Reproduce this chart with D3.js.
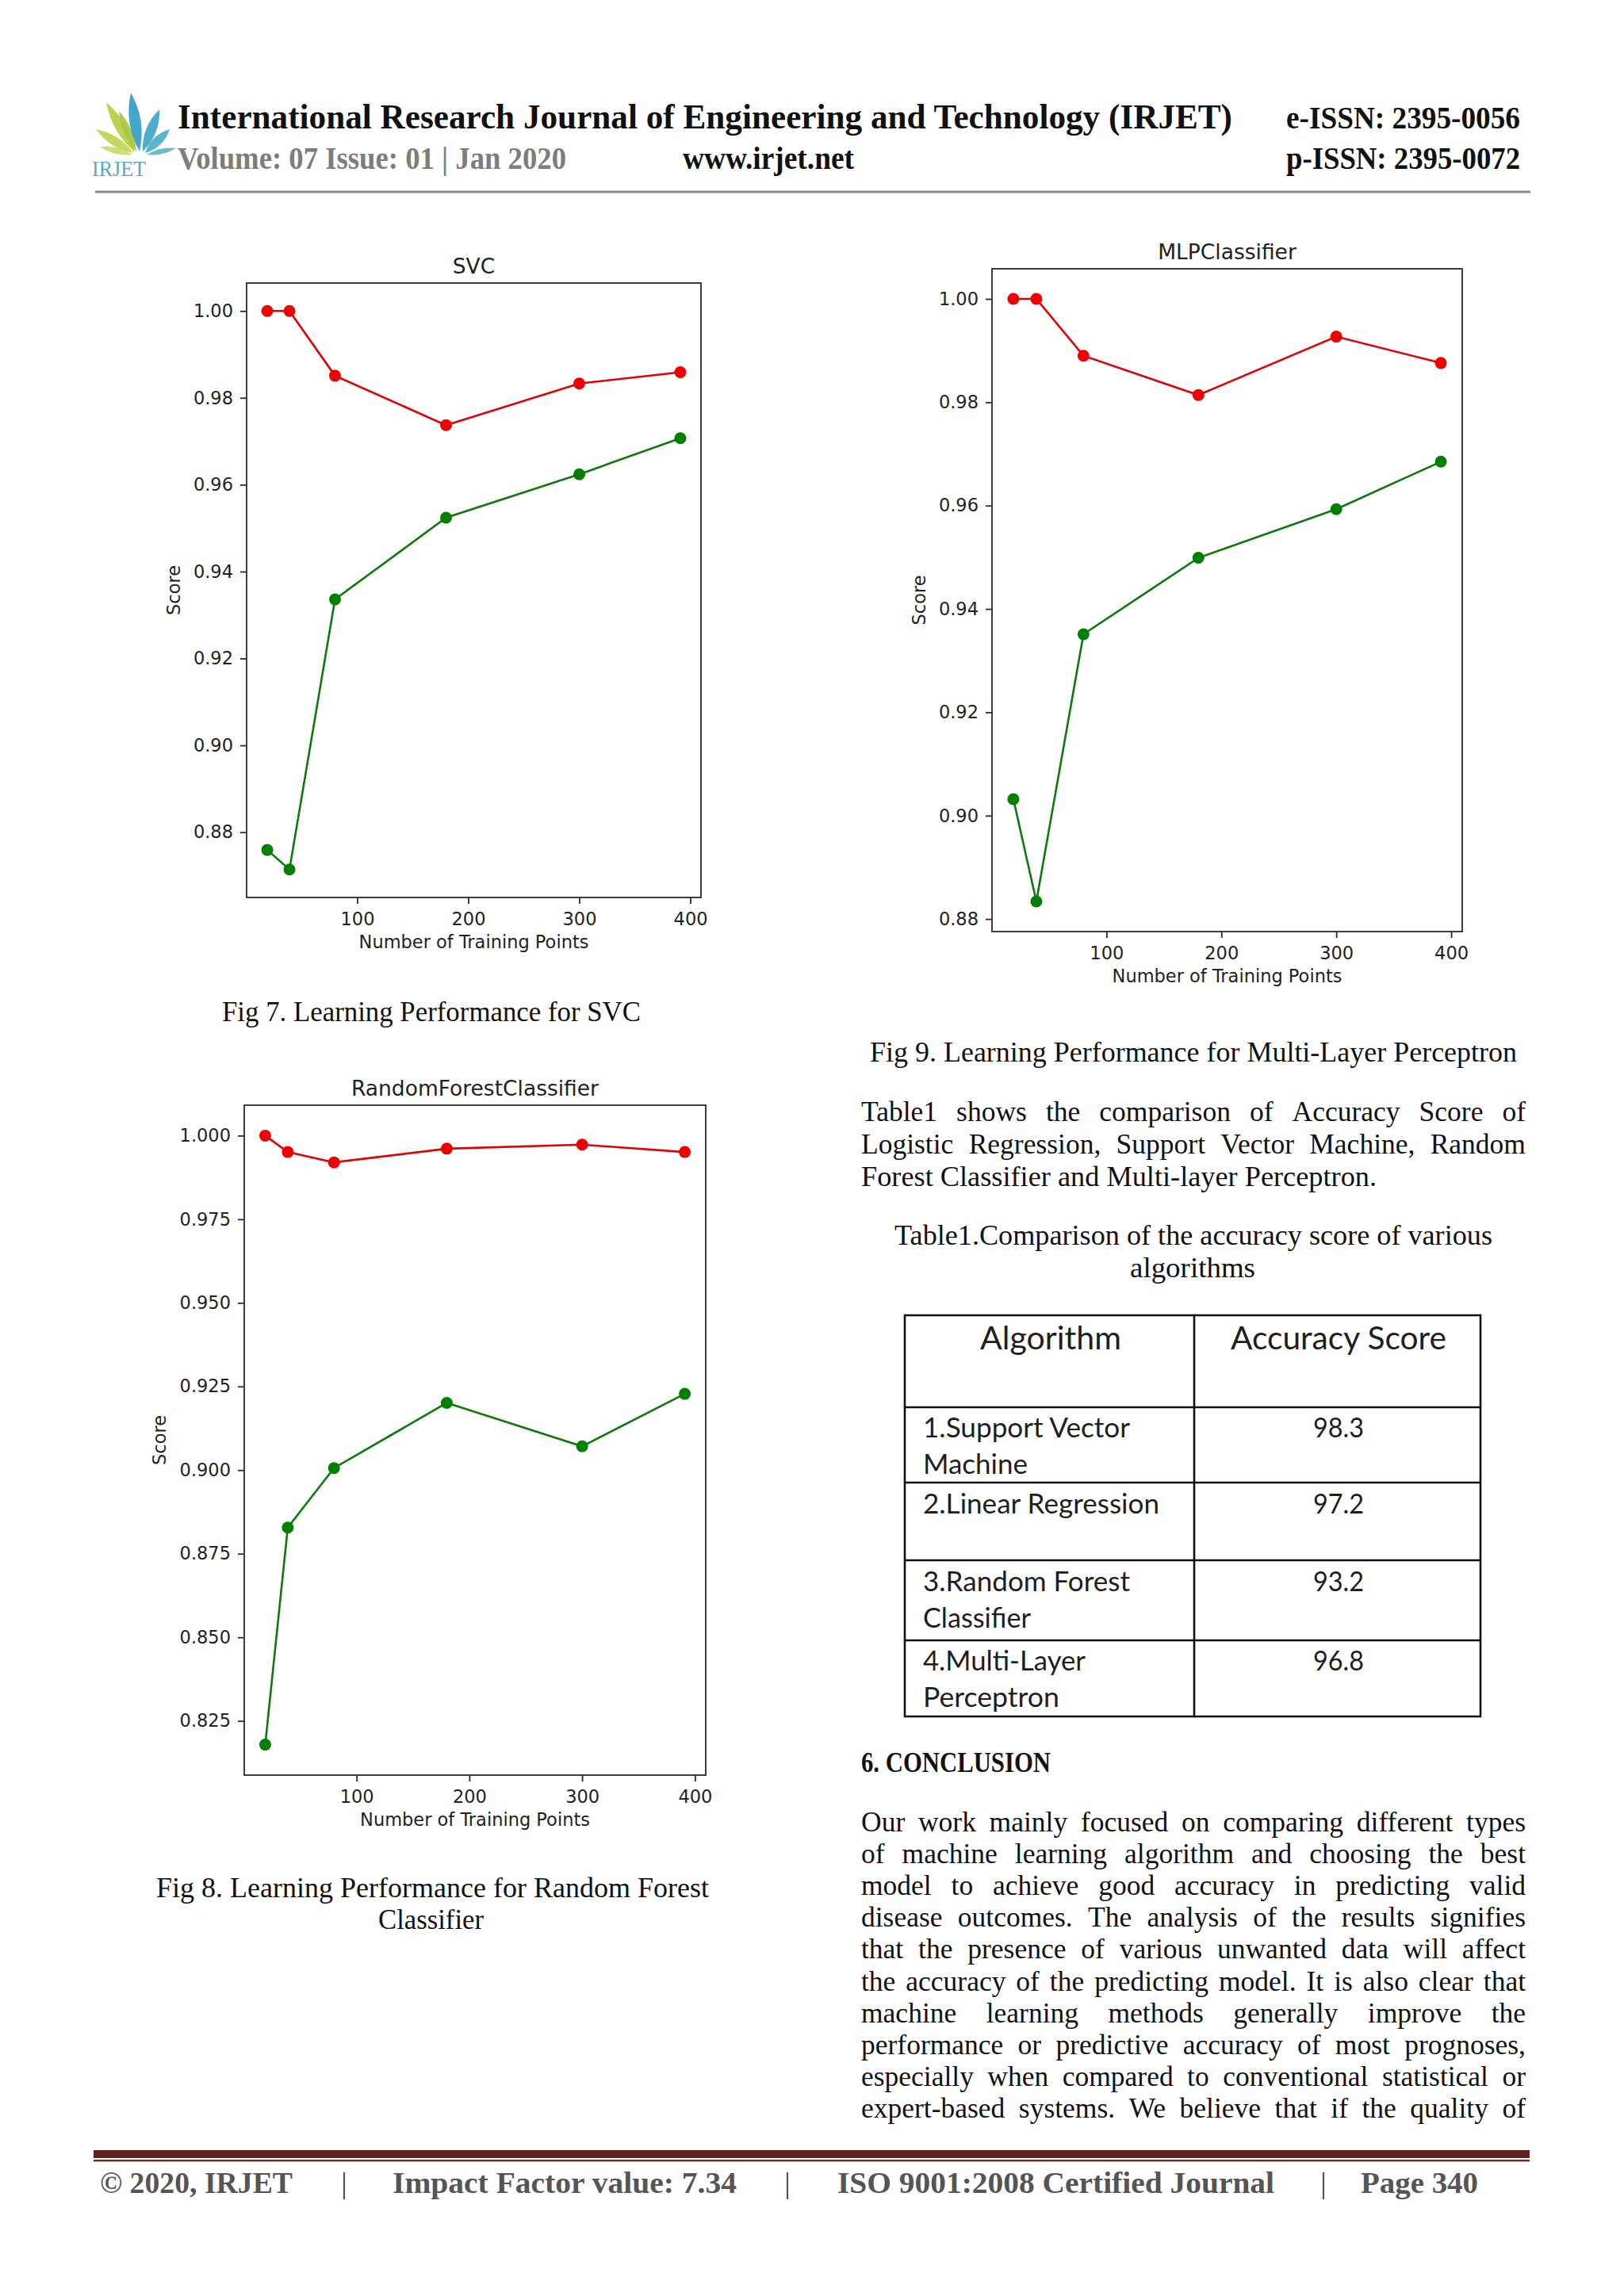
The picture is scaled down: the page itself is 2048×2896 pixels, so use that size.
<!DOCTYPE html>
<html><head><meta charset="utf-8">
<script src="https://cdn.jsdelivr.net/npm/d3@7"></script>
<style>html,body{margin:0;padding:0;background:#fff;} svg{display:block}</style>
</head><body>
<script>
// ---------- data ----------
const trainSizes = [19, 39, 80, 180, 300, 391];
const svcTrain = [1.000, 1.000, 0.9851, 0.9737, 0.9833, 0.9859];
const svcTest  = [0.8759, 0.8714, 0.9336, 0.9524, 0.9624, 0.9707];
const mlpTrain = [1.000, 1.000, 0.9890, 0.9814, 0.9927, 0.9876];
const mlpTest  = [0.9032, 0.8834, 0.9351, 0.9499, 0.9593, 0.9685];
const rfTrain  = [1.000, 0.9951, 0.9920, 0.9961, 0.9973, 0.9951];
const rfTest   = [0.8179, 0.8828, 0.9006, 0.9201, 0.9071, 0.9228];
const xTicks = [100, 200, 300, 400];
const svcYTicks = [0.88, 0.90, 0.92, 0.94, 0.96, 0.98, 1.00];
const mlpYTicks = [0.88, 0.90, 0.92, 0.94, 0.96, 0.98, 1.00];
const rfYTicks  = [0.825, 0.850, 0.875, 0.900, 0.925, 0.950, 0.975, 1.000];
const tableHeaders = ["Algorithm", "Accuracy Score"];
const tableAlgorithms = [["1.Support Vector", "Machine"], ["2.Linear Regression"], ["3.Random Forest", "Classifier"], ["4.Multi-Layer", "Perceptron"]];
const tableScores = ["98.3", "97.2", "93.2", "96.8"];

const W = 2048, H = 2896;
const svg = d3.select("body").append("svg").attr("width", W).attr("height", H)
  .attr("viewBox", `0 0 ${W} ${H}`);
svg.append("rect").attr("width", W).attr("height", H).attr("fill", "#ffffff");

const SERIF = "'Liberation Serif', 'DejaVu Serif', serif";
const SANS = "'DejaVu Sans', sans-serif";
const CAL = "Lato, 'Open Sans', sans-serif";

function txt(parent, s, x, y, o = {}) {
  const t = parent.append("text").attr("x", x).attr("y", y).text(s)
    .attr("font-family", o.family || SERIF)
    .attr("font-size", o.size || 35)
    .attr("font-weight", o.weight || "normal")
    .attr("fill", o.fill || "#111")
    .attr("text-anchor", o.anchor || "start");
  if (o.len) t.attr("textLength", o.len).attr("lengthAdjust", "spacingAndGlyphs");
  return t;
}

function justLine(parent, s, x, y, w, size, fill) {
  const words = s.split(" ");
  const g = parent.append("g");
  const els = words.map(wd => g.append("text").attr("font-family", SERIF).attr("font-size", size)
    .attr("fill", fill || "#111").attr("y", y).text(wd));
  const widths = els.map(e => e.node().getComputedTextLength());
  const total = d3.sum(widths);
  let gap = (w - total) / (words.length - 1);
  let scale = 1;
  const minGap = size * 0.22;
  if (gap < minGap) { scale = w / (total + minGap * (words.length - 1)); gap = minGap; }
  let cx = 0;
  els.forEach((e, i) => { e.attr("x", cx); cx += widths[i] + gap; });
  g.attr("transform", `translate(${x},0) scale(${scale},1)`);
}

// ---------- header ----------
const hdr = svg.append("g");
const leaves = [
  {bx:170,by:192, tx:134,ty:129, w:8, c:"#b7cb3c"},
  {bx:168,by:193, tx:121,ty:163, w:7, c:"#c3d24c"},
  {bx:167,by:195, tx:126,ty:185, w:5, c:"#cdd86a"},
  {bx:172,by:191, tx:150,ty:140, w:6, c:"#a5c640"},
  {bx:176,by:191, tx:165,ty:117, w:9, c:"#2e9bc3"},
  {bx:180,by:191, tx:201,ty:138, w:8, c:"#38a4c6"},
  {bx:183,by:193, tx:214,ty:163, w:7, c:"#45adc8"},
  {bx:185,by:195, tx:222,ty:187, w:4, c:"#5ab5c8"}
];
leaves.forEach(L => {
  const mx = (L.bx + L.tx) / 2, my = (L.by + L.ty) / 2;
  const dx = L.tx - L.bx, dy = L.ty - L.by, len = Math.hypot(dx, dy);
  const px = -dy / len * L.w * 1.6, py = dx / len * L.w * 1.6;
  hdr.append("path").attr("d", `M${L.bx},${L.by} Q${mx + px},${my + py} ${L.tx},${L.ty} Q${mx - px},${my - py} ${L.bx},${L.by} Z`)
    .attr("fill", L.c).attr("opacity", 0.9);
});
txt(hdr, "IRJET", 116, 222, {size: 28, fill: "#5aa7c9", len: 68});
txt(hdr, "International Research Journal of Engineering and Technology (IRJET)", 224, 162, {size: 45, weight: "bold", fill: "#111", len: 1330});
txt(hdr, "e-ISSN: 2395-0056", 1622, 162, {size: 40, weight: "bold", fill: "#111", len: 295});
txt(hdr, "Volume: 07 Issue: 01 | Jan 2020", 224, 213, {size: 40, weight: "bold", fill: "#7d7d7d", len: 490});
txt(hdr, "www.irjet.net", 861, 213, {size: 40, weight: "bold", fill: "#111", len: 216});
txt(hdr, "p-ISSN: 2395-0072", 1622, 213, {size: 40, weight: "bold", fill: "#111", len: 295});
hdr.append("line").attr("x1", 120).attr("x2", 1930).attr("y1", 242).attr("y2", 242)
  .attr("stroke", "#8a8a8a").attr("stroke-width", 3);

// ---------- charts ----------
function padDomain(v) {
  const mn = d3.min(v), mx = d3.max(v), p = (mx - mn) * 0.05;
  return [mn - p, mx + p];
}
function chart(o) {
  const g = svg.append("g");
  const {l, t, r, b} = o.frame;
  const x = d3.scaleLinear().domain(padDomain(trainSizes)).range([l, r]);
  const y = d3.scaleLinear().domain(padDomain(o.train.concat(o.test))).range([b, t]);
  const ya = g.append("g").attr("transform", `translate(${l},0)`)
    .call(d3.axisLeft(y).tickValues(o.yTicks).tickFormat(d3.format(o.fmt)).tickSize(8).tickPadding(9));
  const xa = g.append("g").attr("transform", `translate(0,${b})`)
    .call(d3.axisBottom(x).tickValues(xTicks).tickFormat(d3.format("d")).tickSize(8).tickPadding(11));
  [ya, xa].forEach(a => {
    a.select(".domain").remove();
    a.attr("font-size", 22.5).attr("font-family", SANS);
    a.selectAll("line").attr("stroke", "#2a2a2a").attr("stroke-width", 1.8);
    a.selectAll("text").attr("fill", "#222");
  });
  g.append("rect").attr("x", l).attr("y", t).attr("width", r - l).attr("height", b - t)
    .attr("fill", "none").attr("stroke", "#2a2a2a").attr("stroke-width", 1.8);
  const series = [{v: o.train, c: "#f00000", lc: "#e20000"}, {v: o.test, c: "#008000", lc: "#0b7a0b"}];
  series.forEach(s => {
    const pts = trainSizes.map((d, i) => [x(d), y(s.v[i])]);
    g.append("path").attr("d", d3.line()(pts)).attr("fill", "none")
      .attr("stroke", s.lc).attr("stroke-width", 2.6);
    g.selectAll(null).data(pts).enter().append("circle")
      .attr("cx", d => d[0]).attr("cy", d => d[1]).attr("r", 7.5).attr("fill", s.c);
  });
  g.append("text").attr("x", (l + r) / 2).attr("y", t - 12).attr("text-anchor", "middle")
    .attr("font-family", SANS).attr("font-size", 26.5).attr("fill", "#222").text(o.title);
  g.append("text").attr("x", (l + r) / 2).attr("y", b + 64).attr("text-anchor", "middle")
    .attr("font-family", SANS).attr("font-size", 22.5).attr("fill", "#222").text("Number of Training Points");
  let minLeft = l;
  ya.selectAll("text").each(function() { const bb = this.getBBox(); minLeft = Math.min(minLeft, bb.x + l); });
  const sx = minLeft - 25, sy = (t + b) / 2;
  g.append("text").attr("transform", `translate(${sx},${sy}) rotate(-90)`).attr("text-anchor", "middle")
    .attr("dy", "0.35em").attr("font-family", SANS).attr("font-size", 22.5).attr("fill", "#222").text("Score");
}
chart({title: "SVC", train: svcTrain, test: svcTest, yTicks: svcYTicks, fmt: ".2f", frame: {l: 311, t: 357, r: 884, b: 1132}});
chart({title: "MLPClassifier", train: mlpTrain, test: mlpTest, yTicks: mlpYTicks, fmt: ".2f", frame: {l: 1251, t: 339, r: 1844, b: 1175}});
chart({title: "RandomForestClassifier", train: rfTrain, test: rfTest, yTicks: rfYTicks, fmt: ".3f", frame: {l: 308, t: 1394, r: 890, b: 2239}});

// ---------- captions ----------
const cap = svg.append("g");
txt(cap, "Fig 7. Learning Performance for SVC", 280, 1288, {len: 528});
txt(cap, "Fig 8. Learning Performance for Random Forest", 197, 2393, {len: 697});
txt(cap, "Classifier", 543.5, 2433, {anchor: "middle", len: 133});
txt(cap, "Fig 9. Learning Performance for Multi-Layer Perceptron", 1097, 1339, {len: 816});

// ---------- right column paragraph ----------
const para = svg.append("g");
justLine(para, "Table1 shows the comparison of Accuracy Score of", 1086, 1414, 838, 35.5);
justLine(para, "Logistic Regression, Support Vector Machine, Random", 1086, 1455, 838, 35.5);
txt(para, "Forest Classifier and Multi-layer Perceptron.", 1086, 1496, {len: 650});
txt(para, "Table1.Comparison of the accuracy score of various", 1128, 1570, {len: 754});
txt(para, "algorithms", 1425, 1611, {len: 158});

// ---------- table ----------
const tb = svg.append("g");
const tL = 1141, tR = 1867, tC = 1506;
const rowLines = [1659, 1775, 1870, 1968, 2069, 2165];
rowLines.forEach(yy => tb.append("line").attr("x1", tL).attr("x2", tR).attr("y1", yy).attr("y2", yy)
  .attr("stroke", "#111").attr("stroke-width", 2.6));
[tL, tC, tR].forEach(xx => tb.append("line").attr("x1", xx).attr("x2", xx).attr("y1", rowLines[0] - 1.3).attr("y2", rowLines[5] + 1.3)
  .attr("stroke", "#111").attr("stroke-width", 2.6));
const tf = {family: CAL, fill: "#1e1e1e"};
txt(tb, tableHeaders[0], 1325, 1702, {...tf, size: 40, anchor: "middle", len: 178});
txt(tb, tableHeaders[1], 1688, 1702, {...tf, size: 40, anchor: "middle", len: 272});
const algLens = [[261, 132], [298], [261, 136], [205, 172]];
const rowBase = [1813, 1909, 2007, 2107];
tableAlgorithms.forEach((lines, i) => {
  lines.forEach((s, j) => txt(tb, s, 1164, rowBase[i] + j * 46, {...tf, size: 35, len: algLens[i][j]}));
  txt(tb, tableScores[i], 1688, rowBase[i], {...tf, size: 35, anchor: "middle", len: 64});
});

// ---------- conclusion ----------
const con = svg.append("g");
txt(con, "6. CONCLUSION", 1086, 2235, {size: 35, weight: "bold", len: 239});
const conLines = [
  "Our work mainly focused on comparing different types",
  "of machine learning algorithm and choosing the best",
  "model to achieve good accuracy in predicting valid",
  "disease outcomes. The analysis of the results signifies",
  "that the presence of various unwanted data will affect",
  "the accuracy of the predicting model. It is also clear that",
  "machine learning methods generally improve the",
  "performance or predictive accuracy of most prognoses,",
  "especially when compared to conventional statistical or",
  "expert-based systems. We believe that if the quality of"
];
conLines.forEach((s, i) => justLine(con, s, 1086, 2310 + i * 40.1, 838, 35.5));

// ---------- footer ----------
const ft = svg.append("g");
ft.append("rect").attr("x", 118).attr("y", 2712).attr("width", 1811).attr("height", 10).attr("fill", "#62201f");
ft.append("rect").attr("x", 118).attr("y", 2724).attr("width", 1811).attr("height", 2.4).attr("fill", "#6e2a29");
const ff = {size: 38, weight: "bold", fill: "#555"};
txt(ft, "\u00a9 2020, IRJET", 126, 2766, {...ff, len: 243});
txt(ft, "Impact Factor value: 7.34", 495, 2766, {...ff, len: 434});
txt(ft, "ISO 9001:2008 Certified Journal", 1056, 2766, {...ff, len: 551});
txt(ft, "Page 340", 1716, 2766, {...ff, len: 148});
[434, 993, 1669].forEach(xx => ft.append("line").attr("x1", xx).attr("x2", xx).attr("y1", 2740).attr("y2", 2774)
  .attr("stroke", "#555").attr("stroke-width", 2.2));
</script>
</body></html>
